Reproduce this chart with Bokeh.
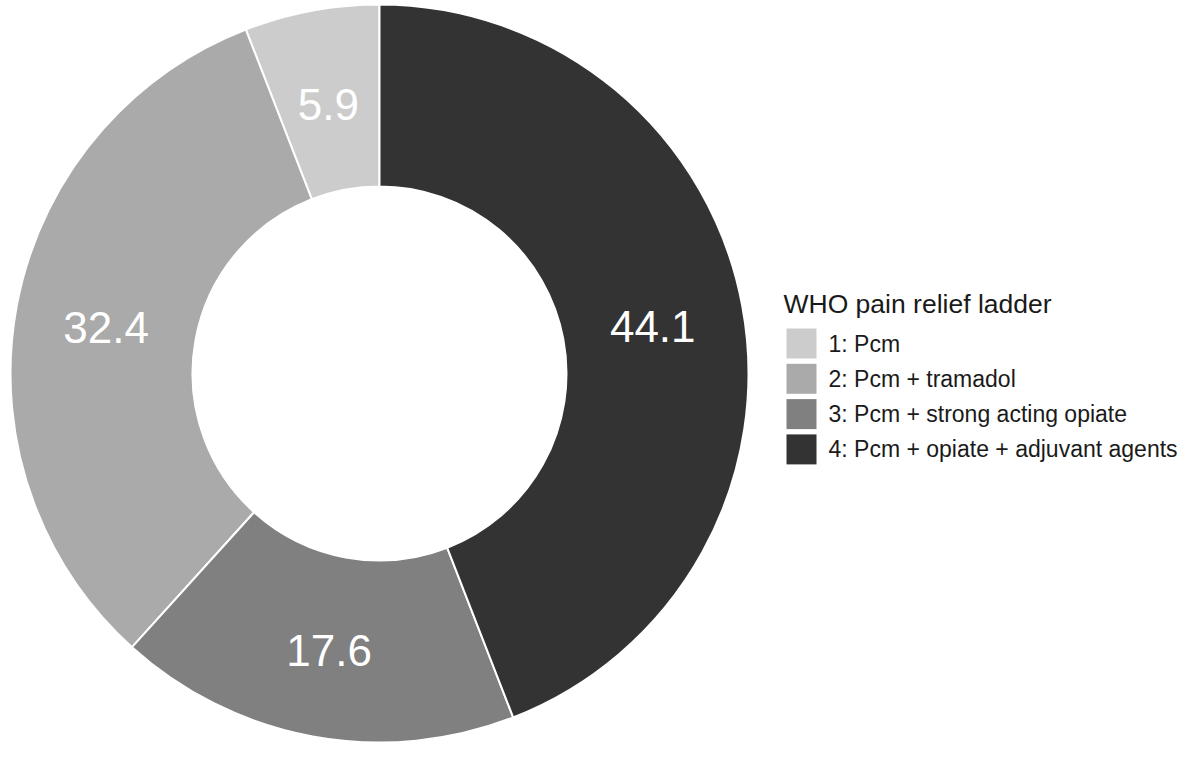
import math
from bokeh.plotting import figure
from bokeh.models import Range1d, ColumnDataSource
from bokeh.core.properties import value
from bokeh.embed import file_html
from bokeh.resources import INLINE

# ---- data ----
categories = ["1: Pcm", "2: Pcm + tramadol", "3: Pcm + strong acting opiate",
              "4: Pcm + opiate + adjuvant agents"]
percent = [5.9, 32.4, 17.6, 44.1]
colors = ["#cccccc", "#aaaaaa", "#808080", "#333333"]
legend_title = "WHO pain relief ladder"

# ---- layout (pixel units, y measured from top then flipped) ----
W, H = 1184, 742
CX, CY_TOP = 379, 373
R_OUT, R_IN = 369, 187
FONT = "Liberation Sans"


def fy(y_top):
    return H - y_top


CY = fy(CY_TOP)

# slices drawn clockwise from 12 o'clock, last level first
order = [3, 2, 1, 0]
total = sum(percent)
start, end, lx, ly, lab = [0.0] * 4, [0.0] * 4, [0.0] * 4, [0.0] * 4, [""] * 4
cum = 0.0
for i in order:
    f0 = cum / total
    cum += percent[i]
    f1 = cum / total
    start[i] = math.pi / 2 - 2 * math.pi * f0
    end[i] = math.pi / 2 - 2 * math.pi * f1
    mid = math.pi / 2 - 2 * math.pi * (f0 + f1) / 2
    rm = (R_OUT + R_IN) / 2
    lx[i] = CX + rm * math.cos(mid)
    ly[i] = CY + rm * math.sin(mid)
    lab[i] = f"{percent[i]:.1f}"

src = ColumnDataSource(dict(cat=categories, pct=percent, color=colors,
                            start=start, end=end, lx=lx, ly=ly, lab=lab))

p = figure(width=W, height=H, x_range=Range1d(0, W), y_range=Range1d(0, H),
           output_backend="svg", toolbar_location=None,
           x_axis_location=None, y_axis_location=None,
           min_border=0, min_border_left=0, min_border_right=0,
           min_border_top=0, min_border_bottom=0)
p.grid.visible = False
p.outline_line_color = None
p.background_fill_color = "white"

p.annular_wedge(x=CX, y=CY, inner_radius=R_IN, outer_radius=R_OUT,
                start_angle="start", end_angle="end", direction="clock",
                fill_color="color", line_color="white", line_width=2,
                source=src)

p.text(x="lx", y="ly", text="lab", source=src, text_color="white",
       text_font=value(FONT), text_font_size="44px", y_offset=4,
       text_align="center", text_baseline="middle")

# ---- legend (keys + labels from the data arrays) ----
KEY_X, KEY_TOP0, KEY_SIZE, KEY_STEP = 786, 328, 30, 35.3
kx = [KEY_X + KEY_SIZE / 2] * len(categories)
ky = [fy(KEY_TOP0 + KEY_STEP * i + KEY_SIZE / 2) for i in range(len(categories))]
tx = [KEY_X + KEY_SIZE + 12] * len(categories)
leg = ColumnDataSource(dict(kx=kx, ky=ky, tx=tx, cat=categories, color=colors))

p.rect(x="kx", y="ky", width=KEY_SIZE, height=KEY_SIZE, fill_color="color",
       line_color=None, source=leg)
p.text(x="tx", y="ky", text="cat", source=leg, text_color="#1a1a1a",
       text_font=value(FONT), text_font_size="23px",
       text_align="left", text_baseline="middle")
p.text(x=[783], y=[fy(303)], text=[legend_title], text_color="#1a1a1a",
       text_font=value(FONT), text_font_size="26.5px",
       text_align="left", text_baseline="middle")

open("out.html", "w").write(file_html(p, INLINE))
